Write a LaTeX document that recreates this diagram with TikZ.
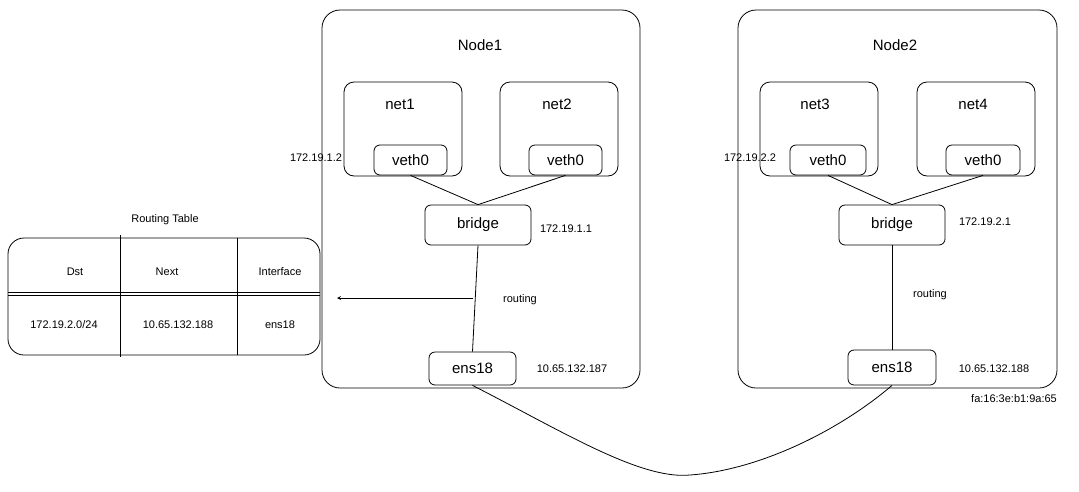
\documentclass[tikz,border=0pt]{standalone}
\usepackage{fontspec}
\setmainfont{Liberation Sans}
\begin{document}
\begin{tikzpicture}[x=1pt,y=-1pt,line width=0.8pt,
  box/.style={draw,rounded corners=10pt},
  sbox/.style={draw,rounded corners=6pt},
  lbl/.style={font=\fontsize{15}{17}\selectfont},
  sm/.style={font=\fontsize{11}{13}\selectfont}]
\useasboundingbox (0,0) rectangle (1079,491);
% Node1
\draw[box,rounded corners=18pt] (322,10) rectangle (640,388);
\node[lbl] (n1t) at (480,45) {Node1};
\draw[box] (344,82) rectangle (462,176);
\node[lbl] (net1) at (400,104) {net1};
\node[sbox,lbl,minimum width=73pt,minimum height=30pt,inner sep=0pt] (v1) at (410.5,160) {veth0};
\draw[box] (500,82) rectangle (618,176);
\node[lbl] (net2) at (557,104) {net2};
\node[sbox,lbl,minimum width=73pt,minimum height=30pt,inner sep=0pt] (v2) at (565.5,160) {veth0};
\node[sm] (ip1) at (316,158) {172.19.1.2};
\node[sbox,lbl,minimum width=106pt,minimum height=40pt,inner sep=0pt] (b1) at (478,225) {bridge};
\node[sm] (ipb1) at (566,229) {172.19.1.1};
\node[sbox,lbl,minimum width=87pt,minimum height=33pt,inner sep=0pt] (e1) at (472.5,368.5) {ens18};
\node[sm] (ipe1) at (572,369) {10.65.132.187};
\draw (v1.south) -- (b1.north);
\draw (v2.south) -- (b1.north);
\draw (b1.south) -- (e1.north);
\node[sm] (r1) at (520,300) {routing};
\coordinate (a1) at (473,298);
\coordinate (a2) at (337,298);
\draw[->,>=stealth] (a1) -- (a2);
% Node2
\draw[box,rounded corners=18pt] (738,10) rectangle (1057,388);
\node[lbl] (n2t) at (895,45) {Node2};
\draw[box] (760,82) rectangle (878,176);
\node[lbl] (net3) at (815,104) {net3};
\node[sbox,lbl,minimum width=76pt,minimum height=30pt,inner sep=0pt] (v3) at (828,160) {veth0};
\draw[box] (917,82) rectangle (1035,176);
\node[lbl] (net4) at (973,104) {net4};
\node[sbox,lbl,minimum width=74pt,minimum height=30pt,inner sep=0pt] (v4) at (983,160) {veth0};
\node[sm] (ip3) at (750,158) {172.19.2.2};
\node[sbox,lbl,minimum width=106pt,minimum height=40pt,inner sep=0pt] (b2) at (892,225) {bridge};
\node[sm] (ipb2) at (985,222) {172.19.2.1};
\node[sbox,lbl,minimum width=88pt,minimum height=35pt,inner sep=0pt] (e2) at (892,367.5) {ens18};
\node[sm] (ipe2) at (994,369) {10.65.132.188};
\node[sm] (mac) at (1014,399) {fa:16:3e:b1:9a:65};
\draw (v3.south) -- (b2.north);
\draw (v4.south) -- (b2.north);
\draw (b2.south) -- (e2.north);
\node[sm] (r2) at (930,295) {routing};
\draw (e1.south) .. controls (560,430) and (640,480) .. (690,475) .. controls (760,470) and (840,430) .. (e2.south);
% Routing table
\node[sm] (rt) at (165,220) {Routing Table};
\draw[box,rounded corners=16pt] (8,238) rectangle (320,355);
\draw (120,235) -- (120,357);
\draw (237,238) -- (237,355);
\draw (8,292) -- (320,292);
\draw (8,295) -- (320,295);
\node[sm] (h1) at (75,272) {Dst};
\node[sm] (h2) at (167,272) {Next};
\node[sm] (h3) at (280,272) {Interface};
\node[sm] (c1) at (64,325) {172.19.2.0/24};
\node[sm] (c2) at (178,325) {10.65.132.188};
\node[sm] (c3) at (280,325) {ens18};
\end{tikzpicture}
\end{document}
